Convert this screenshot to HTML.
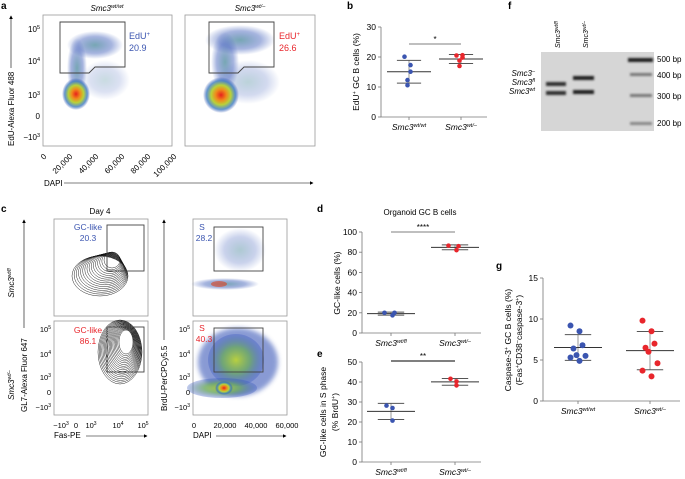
<!DOCTYPE html>
<html><head><meta charset="utf-8"><style>
html,body{margin:0;padding:0;background:#fff;}
svg{display:block;font-family:"Liberation Sans",Arial,sans-serif;}
</style></head><body>
<svg id="fig" width="685" height="479" viewBox="0 0 685 479" xmlns="http://www.w3.org/2000/svg">
<defs>
<radialGradient id="core" cx="50%" cy="50%" r="50%">
<stop offset="0" stop-color="#e8201c"/><stop offset="0.3" stop-color="#f08a1c"/><stop offset="0.55" stop-color="#b8d23a"/><stop offset="0.8" stop-color="#3a7ac0" stop-opacity="0.8"/><stop offset="1" stop-color="#3050b0" stop-opacity="0"/>
</radialGradient>
<radialGradient id="cloud" cx="50%" cy="50%" r="50%">
<stop offset="0" stop-color="#4a8a9a" stop-opacity="0.75"/><stop offset="0.6" stop-color="#3a5ab8" stop-opacity="0.45"/><stop offset="1" stop-color="#3a5ab8" stop-opacity="0"/>
</radialGradient>
<radialGradient id="green" cx="50%" cy="50%" r="50%">
<stop offset="0" stop-color="#b8d040"/><stop offset="0.5" stop-color="#6aa860" stop-opacity="0.8"/><stop offset="1" stop-color="#3050c0" stop-opacity="0.3"/>
</radialGradient>
<filter id="blur1"><feGaussianBlur stdDeviation="1"/></filter>
<filter id="blur2"><feGaussianBlur stdDeviation="2.5"/></filter>
<marker id="arr" markerWidth="6" markerHeight="6" refX="5" refY="3" orient="auto"><path d="M0,0 L6,3 L0,6z" fill="#000"/></marker>
</defs>

<g font-weight="bold" font-size="10">
<text x="1" y="9">a</text>
<text x="347" y="9">b</text>
<text x="508" y="9">f</text>
<text x="1" y="212">c</text>
<text x="317" y="212">d</text>
<text x="317" y="357">e</text>
<text x="496" y="269">g</text>
</g>

<g font-size="8">
<text x="107" y="11" text-anchor="middle" font-style="italic">Smc3<tspan font-size="5.5" dy="-3">wt/wt</tspan></text>
<text x="250" y="11" text-anchor="middle" font-style="italic">Smc3<tspan font-size="5.5" dy="-3">wt/–</tspan></text>
<rect x="43" y="15" width="129" height="131" fill="none" stroke="#999" stroke-width="0.8"/>
<rect x="185" y="15" width="130" height="131" fill="none" stroke="#999" stroke-width="0.8"/>
<g>
<ellipse cx="95" cy="45" rx="28" ry="14" fill="url(#cloud)"/>
<ellipse cx="77" cy="68" rx="10" ry="30" fill="url(#cloud)"/>
<ellipse cx="105" cy="80" rx="25" ry="20" fill="url(#cloud)" opacity="0.4"/>
<ellipse cx="76" cy="94" rx="14" ry="16" fill="url(#core)"/>
</g>
<g>
<ellipse cx="240" cy="40" rx="35" ry="15" fill="url(#cloud)"/>
<ellipse cx="225" cy="62" rx="14" ry="30" fill="url(#cloud)"/>
<ellipse cx="248" cy="82" rx="32" ry="22" fill="url(#cloud)" opacity="0.5"/>
<ellipse cx="221" cy="95" rx="18" ry="18" fill="url(#core)"/>
</g>
<path d="M60,22 H125 V67 H95 L89,73 H60 Z" fill="none" stroke="#444" stroke-width="0.9"/>
<path d="M209,22 H274 V67 H244 L238,73 H209 Z" fill="none" stroke="#444" stroke-width="0.9"/>
<text x="129" y="39" fill="#3b55b0" font-size="9">EdU<tspan font-size="6" dy="-3">+</tspan></text>
<text x="129" y="51" fill="#3b55b0" font-size="9">20.9</text>
<text x="279" y="39" fill="#e8262c" font-size="9">EdU<tspan font-size="6" dy="-3">+</tspan></text>
<text x="279" y="51" fill="#e8262c" font-size="9">26.6</text>
<g text-anchor="end" font-size="8">
<text x="40" y="32">10<tspan font-size="5.5" dy="-3">5</tspan></text>
<text x="40" y="64">10<tspan font-size="5.5" dy="-3">4</tspan></text>
<text x="40" y="98">10<tspan font-size="5.5" dy="-3">3</tspan></text>
<text x="40" y="119">0</text>
<text x="40" y="140">−10<tspan font-size="5.5" dy="-3">3</tspan></text>
</g>
<g font-size="8">
<text transform="translate(47,157) rotate(-45)" text-anchor="end">0</text>
<text transform="translate(73,157) rotate(-45)" text-anchor="end">20,000</text>
<text transform="translate(99,157) rotate(-45)" text-anchor="end">40,000</text>
<text transform="translate(125,157) rotate(-45)" text-anchor="end">60,000</text>
<text transform="translate(151,157) rotate(-45)" text-anchor="end">80,000</text>
<text transform="translate(177,157) rotate(-45)" text-anchor="end">100,000</text>
</g>
<text x="44" y="186" font-size="8">DAPI</text>
<line x1="64" y1="183" x2="313" y2="183" stroke="#000" stroke-width="0.6" marker-end="url(#arr)"/>
<text transform="translate(14,146) rotate(-90)" font-size="8">EdU-Alexa Fluor 488</text>
<line x1="11" y1="68" x2="11" y2="16" stroke="#000" stroke-width="0.6" marker-end="url(#arr)"/>
</g>

<g font-size="8">
<rect x="541" y="52" width="113" height="79" fill="#d6d6d6"/>
<g filter="url(#blur1)">
<rect x="546" y="82" width="20" height="4" fill="#333"/>
<rect x="546" y="91" width="20" height="4" fill="#333"/>
<rect x="573" y="76" width="21" height="4" fill="#222"/>
<rect x="573" y="90" width="21" height="4" fill="#222"/>
<rect x="628" y="58" width="25" height="4" fill="#222"/>
<rect x="630" y="73" width="22" height="3" fill="#777"/>
<rect x="630" y="94" width="22" height="3" fill="#777"/>
<rect x="630" y="122" width="22" height="3" fill="#888"/>
</g>
<text transform="translate(560,48) rotate(-90)" font-size="7" font-style="italic">Smc3<tspan font-size="5" dy="-2">wt/fl</tspan></text>
<text transform="translate(588,48) rotate(-90)" font-size="7" font-style="italic">Smc3<tspan font-size="5" dy="-2">wt/–</tspan></text>
<g text-anchor="end" font-style="italic">
<text x="535" y="76">Smc3<tspan font-size="5.5" dy="-3">–</tspan></text>
<text x="535" y="85">Smc3<tspan font-size="5.5" dy="-3">fl</tspan></text>
<text x="535" y="94">Smc3<tspan font-size="5.5" dy="-3">wt</tspan></text>
</g>
<g>
<text x="657" y="62">500 bp</text><text x="657" y="78">400 bp</text>
<text x="657" y="99">300 bp</text><text x="657" y="126">200 bp</text>
</g>
</g>

<g font-size="8">
<text x="100" y="214" text-anchor="middle">Day 4</text>
<rect x="54" y="219" width="94" height="97" fill="none" stroke="#999" stroke-width="0.8"/>
<rect x="54" y="321" width="94" height="94" fill="none" stroke="#999" stroke-width="0.8"/>
<rect x="193" y="219" width="94" height="97" fill="none" stroke="#999" stroke-width="0.8"/>
<rect x="193" y="321" width="94" height="94" fill="none" stroke="#999" stroke-width="0.8"/>
<g id="contTop" fill="none" stroke="#111" stroke-width="0.45"></g>
<g id="contBot" fill="none" stroke="#111" stroke-width="0.45"></g>
<g>
<ellipse cx="240" cy="250" rx="26" ry="22" fill="url(#cloud)" opacity="0.6"/>
<ellipse cx="225" cy="284" rx="34" ry="6" fill="url(#cloud)"/>
<ellipse cx="219" cy="284" rx="8" ry="3" fill="#e04020" opacity="0.6"/>
</g>
<g>
<ellipse cx="238" cy="362" rx="40" ry="34" fill="#3a58b8" opacity="0.6" filter="url(#blur2)"/>
<ellipse cx="236" cy="360" rx="28" ry="26" fill="url(#green)"/>
<ellipse cx="222" cy="388" rx="35" ry="10" fill="url(#green)"/>
<ellipse cx="224" cy="388" rx="9" ry="7" fill="url(#core)"/>
</g>
<rect x="107" y="225" width="37" height="46" fill="none" stroke="#444" stroke-width="0.9"/>
<rect x="107" y="327" width="37" height="45" fill="none" stroke="#444" stroke-width="0.9"/>
<rect x="214" y="227" width="49" height="44" fill="none" stroke="#444" stroke-width="0.9"/>
<rect x="214" y="328" width="49" height="44" fill="none" stroke="#444" stroke-width="0.9"/>
<g font-size="8.5" text-anchor="middle">
<text x="88" y="230" fill="#3b55b0">GC-like</text>
<text x="88" y="241" fill="#3b55b0">20.3</text>
<text x="88" y="333" fill="#e8262c">GC-like</text>
<text x="88" y="344" fill="#e8262c">86.1</text>
<text x="202" y="230" fill="#3b55b0">S</text>
<text x="204" y="241" fill="#3b55b0">28.2</text>
<text x="202" y="331" fill="#e8262c">S</text>
<text x="204" y="342" fill="#e8262c">40.3</text>
</g>
<g text-anchor="end" font-size="7.5">
<text x="51" y="332">10<tspan font-size="5" dy="-3">5</tspan></text>
<text x="51" y="357">10<tspan font-size="5" dy="-3">4</tspan></text>
<text x="51" y="380">10<tspan font-size="5" dy="-3">3</tspan></text>
<text x="51" y="395">0</text>
<text x="51" y="410">−10<tspan font-size="5" dy="-3">3</tspan></text>
</g>
<g text-anchor="end" font-size="7.5">
<text x="190" y="332">10<tspan font-size="5" dy="-3">5</tspan></text>
<text x="190" y="357">10<tspan font-size="5" dy="-3">4</tspan></text>
<text x="190" y="380">10<tspan font-size="5" dy="-3">3</tspan></text>
<text x="190" y="395">0</text>
<text x="190" y="410">−10<tspan font-size="5" dy="-3">3</tspan></text>
</g>
<g text-anchor="middle" font-size="7.5">
<text x="61" y="428">−10<tspan font-size="5" dy="-3">3</tspan></text>
<text x="76" y="428">0</text>
<text x="91" y="428">10<tspan font-size="5" dy="-3">3</tspan></text>
<text x="118" y="428">10<tspan font-size="5" dy="-3">4</tspan></text>
<text x="143" y="428">10<tspan font-size="5" dy="-3">5</tspan></text>
</g>
<g text-anchor="middle" font-size="7.5">
<text x="194" y="428">0</text><text x="225" y="428">20,000</text>
<text x="256" y="428">40,000</text><text x="287" y="428">60,000</text>
</g>
<text x="54" y="438">Fas-PE</text>
<line x1="86" y1="436" x2="147" y2="436" stroke="#000" stroke-width="0.6" marker-end="url(#arr)"/>
<text x="193" y="438">DAPI</text>
<line x1="216" y1="436" x2="286" y2="436" stroke="#000" stroke-width="0.6" marker-end="url(#arr)"/>
<text transform="translate(27,412) rotate(-90)">GL7-Alexa Fluor 647</text>
<line x1="24" y1="328" x2="24" y2="220" stroke="#000" stroke-width="0.6" marker-end="url(#arr)"/>
<text transform="translate(167,411) rotate(-90)">BrdU-PerCPCy5.5</text>
<line x1="164" y1="340" x2="164" y2="220" stroke="#000" stroke-width="0.6" marker-end="url(#arr)"/>
<text transform="translate(14,283) rotate(-90)" font-style="italic" text-anchor="middle">Smc3<tspan font-size="5" dy="-3">wt/fl</tspan></text>
<text transform="translate(14,385) rotate(-90)" font-style="italic" text-anchor="middle">Smc3<tspan font-size="5" dy="-3">wt/–</tspan></text>
</g>

<text x="420" y="215" font-size="8" text-anchor="middle">Organoid GC B cells</text>
<g id="charts"></g>
</svg>
<script>
// Panel b data
const bCategories = ['wt/wt', 'wt/–'];
const bBlue = [20.1, 17.3, 15.1, 12.3, 10.6];
const bRed = [20.5, 20.6, 19.8, 18.8, 17.0];
const bTicks = [0, 10, 20, 30];
// Panel d data
const dCategories = ['wt/fl', 'wt/–'];
const dBlue = [20.0, 17.5, 20.0];
const dRed = [86.5, 82.0, 86.0];
const dTicks = [0, 20, 40, 60, 80, 100];
// Panel e data
const eCategories = ['wt/fl', 'wt/–'];
const eBlue = [28.2, 27.0, 20.7];
const eRed = [41.6, 40.3, 38.3];
const eTicks = [0, 10, 20, 30, 40, 50];
// Panel g data
const gCategories = ['wt/wt', 'wt/–'];
const gBlue = [9.2, 8.5, 6.8, 6.4, 5.6, 5.5, 5.3, 4.9];
const gRed = [9.8, 8.5, 7.0, 6.5, 6.0, 4.6, 3.7, 3.0];
const gTicks = [0, 5, 10, 15];

const NS = 'http://www.w3.org/2000/svg';
const root = document.getElementById('charts');
function mk(tag, attrs, parent) {
  const e = document.createElementNS(NS, tag);
  for (const k in attrs) e.setAttribute(k, attrs[k]);
  (parent || root).appendChild(e);
  return e;
}
function stats(a) {
  const m = a.reduce((s, v) => s + v, 0) / a.length;
  const sd = Math.sqrt(a.reduce((s, v) => s + (v - m) * (v - m), 0) / (a.length - 1));
  return [m, sd];
}
function dotplot(o) {
  const g = mk('g', {});
  
  
  const ymax = o.ticks[o.ticks.length - 1];
  const y = v => o.y0 - (v / ymax) * (o.y0 - o.y1);
  const ax = mk('path', { d: `M${o.x0},${o.y1} V${o.y0} H${o.x2}`, fill: 'none', stroke: '#777', 'stroke-width': 0.8 }, g);
  
  
  o.ticks.forEach(t => {
    mk('line', { x1: o.x0 - 3, x2: o.x0, y1: y(t), y2: y(t), stroke: '#777', 'stroke-width': 0.8 }, g);
    const tx = mk('text', { x: o.x0 - 5, y: y(t) + 3, 'text-anchor': 'end', 'font-size': 8.5 }, g);
    tx.textContent = t;
    
    
  });
  const series = [[o.blue, '#3b55b0'], [o.red, '#e8262c']];
  series.forEach((s, i) => {
    const cx = o.cx[i];
    mk('line', { x1: cx, x2: cx, y1: o.y0, y2: o.y0 + 3, stroke: '#777', 'stroke-width': 0.8 }, g);
    const lab = mk('text', { x: cx, y: o.y0 + 13, 'text-anchor': 'middle', 'font-size': 8.5, 'font-style': 'italic' }, g);
    lab.innerHTML = 'Smc3<tspan font-size="5.5" dy="-3">' + o.cats[i] + '</tspan>';
    
    
    const [m, sd] = stats(s[0]);
    mk('line', { x1: cx, x2: cx, y1: y(m + sd), y2: y(m - sd), stroke: '#999', 'stroke-width': 1 }, g);
    [m + sd, m - sd].forEach(v => mk('line', { x1: cx - o.cw * 0.55, x2: cx + o.cw * 0.55, y1: y(v), y2: y(v), stroke: '#555', 'stroke-width': 1 }, g));
    const ml = mk('line', { x1: cx - o.cw, x2: cx + o.cw, y1: y(m), y2: y(m), stroke: '#333', 'stroke-width': 1 }, g);
    
    
    s[0].forEach((v, j) => {
      const jit = ((j % 3) - 1) * o.jit + (j % 2 ? 1.5 : -1.5) * (o.jit > 0 ? 1 : 0);
      const c = mk('circle', { cx: cx + jit, cy: y(v), r: o.r, fill: s[1] }, g);
      
      
    });
  });
  if (o.sig) {
    mk('line', { x1: o.cx[0], x2: o.cx[1], y1: o.sigY, y2: o.sigY, stroke: o.sigColor, 'stroke-width': 1.3 }, g);
    const st = mk('text', { x: (o.cx[0] + o.cx[1]) / 2, y: o.sigY - 2, 'text-anchor': 'middle', 'font-size': 8 }, g);
    st.textContent = o.sig;
    
    
  }
  return g;
}
dotplot({ name: 'b', cats: bCategories, blue: bBlue, red: bRed, ticks: bTicks, x0: 381, x2: 487, y0: 117, y1: 27, cx: [409, 461], cw: 22, r: 2.3, jit: 3, sig: '*', sigY: 44, sigColor: '#999' });
dotplot({ name: 'd', cats: dCategories, blue: dBlue, red: dRed, ticks: dTicks, x0: 362, x2: 481, y0: 333, y1: 232, cx: [391, 455], cw: 24, r: 2.3, jit: 5, sig: '****', sigY: 232, sigColor: '#999' });
dotplot({ name: 'e', cats: eCategories, blue: eBlue, red: eRed, ticks: eTicks, x0: 362, x2: 481, y0: 462, y1: 362, cx: [391, 455], cw: 24, r: 2.3, jit: 3, sig: '**', sigY: 361, sigColor: '#333' });
dotplot({ name: 'g', cats: gCategories, blue: gBlue, red: gRed, ticks: gTicks, x0: 543, x2: 680, y0: 401, y1: 278, cx: [578, 650], cw: 24, r: 3, jit: 6, sig: null });

function ytitle(x, yc, lines, name) {
  const t = mk('text', { transform: `translate(${x},${yc}) rotate(-90)`, 'text-anchor': 'middle', 'font-size': 8.5 });
  t.innerHTML = lines;
  
  
}
ytitle(359, 72, 'EdU<tspan font-size="5.5" dy="-3">+</tspan><tspan dy="3"> GC B cells (%)</tspan>', 'b-y-axis-title');
ytitle(340, 283, 'GC-like cells (%)', 'd-y-axis-title');
ytitle(326, 412, 'GC-like cells in S phase', 'e-y-axis-title');
ytitle(338, 412, '(% BrdU<tspan font-size="5.5" dy="-3">+</tspan><tspan dy="3">)</tspan>', 'e-y-axis-title-2');
ytitle(511, 340, 'Caspase-3<tspan font-size="5.5" dy="-3">+</tspan><tspan dy="3"> GC B cells (%)</tspan>', 'g-y-axis-title');
ytitle(522, 340, '(Fas<tspan font-size="5.5" dy="-3">+</tspan><tspan dy="3">CD38</tspan><tspan font-size="5.5" dy="-3">−</tspan><tspan dy="3">caspase-3</tspan><tspan font-size="5.5" dy="-3">+</tspan><tspan dy="3">)</tspan>', 'g-y-axis-title-2');

// decorative contour rings
const ct = document.getElementById('contTop');
for (let i = 0; i < 16; i++) {
  const k = i / 15;
  mk('ellipse', { cx: 100 + k * 12, cy: 276 - k * 16, rx: 28 - k * 20, ry: 20 - k * 12 }, ct);
}
const cb = document.getElementById('contBot');
for (let i = 0; i < 18; i++) {
  const k = i / 17;
  mk('ellipse', { cx: 120 + k * 6, cy: 352 - k * 10, rx: 22 - k * 15, ry: 32 - k * 20 }, cb);
}
</script>
</body></html>
